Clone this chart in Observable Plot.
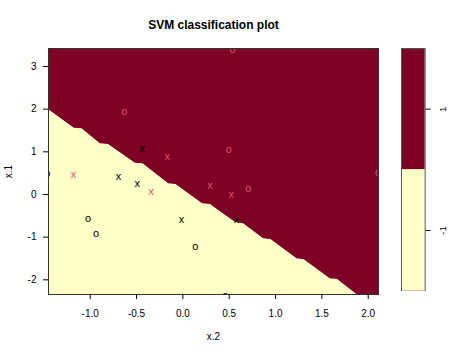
<!DOCTYPE html>
<html><head><meta charset="utf-8">
<script src="https://cdn.jsdelivr.net/npm/d3@7"></script>
<script src="https://cdn.jsdelivr.net/npm/@observablehq/plot@0.6"></script>
<style>
html,body{margin:0;padding:0;background:#fff;}
#chart{position:relative;width:474px;height:355px;font-family:"Liberation Sans",Arial,sans-serif;}
#legend{position:absolute;left:401px;top:48px;}
</style></head><body><div id="chart"><div id="main"></div><div id="legend"></div></div>
<script>
const title = "SVM classification plot";
const xLabel = "x.2";
const yLabel = "x.1";
const xDomain = [-1.450, 2.111];
const yDomain = [-2.344, 3.422];
const xTicks = [-1, -0.5, 0, 0.5, 1, 1.5, 2];
const xTickLabels = ["-1.0", "-0.5", "0.0", "0.5", "1.0", "1.5", "2.0"];
const yTicks = [-2, -1, 0, 1, 2, 3];
const yTickLabels = ["-2", "-1", "0", "1", "2", "3"];
const classes = ["-1", "1"];
const legendOrder = ["1", "-1"];
const regionColors = ["#FFFFC8", "#7D0025"];
const pointColors = ["#000000", "#DF536B"];

// decision boundary (x.2, x.1)
const boundaryX2 = [-1.450, -1.172, -1.088, -0.891, -0.802, -0.513, -0.430, -0.154, -0.074, 0.213, 0.296, 0.569, 0.655, 0.871, 0.950, 1.231, 1.310, 1.590, 1.669, 1.878, 2.111];
const boundaryX1 = [1.992, 1.554, 1.540, 1.188, 1.172, 0.734, 0.719, 0.251, 0.234, -0.218, -0.234, -0.656, -0.687, -1.038, -1.055, -1.507, -1.530, -1.976, -1.992, -2.344, -2.344];

// observations
const pointX2 = [-1.463, -0.694, -0.492, -0.441, -1.024, -0.937, -0.014, 0.134, 0.579, 0.457,
                 -0.632, -1.179, -0.168, -0.341, 0.536, 0.497, 0.292, 0.522, 0.705, 2.105];
const pointX1 = [0.492, 0.422, 0.265, 1.085, -0.555, -0.907, -0.586, -1.226, -0.586, -2.355,
                 1.952, 0.476, 0.884, 0.077, 3.398, 1.055, 0.211, -0.007, 0.148, 0.509];
const pointSymbol = ["o", "x", "x", "x", "o", "o", "x", "o", "x", "o",
                     "o", "x", "x", "x", "o", "o", "x", "x", "o", "o"];
const pointClass = ["-1", "-1", "-1", "-1", "-1", "-1", "-1", "-1", "-1", "-1",
                    "1", "1", "1", "1", "1", "1", "1", "1", "1", "1"];

const boundary = boundaryX2.map((x, i) => ({x, y: boundaryX1[i]}));
const points = pointX2.map((x, i) => ({x, y: pointX1[i], s: pointSymbol[i], c: pointClass[i]}));
const font = '"Liberation Sans", Arial, sans-serif';

const main = Plot.plot({
  width: 474, height: 355,
  marginLeft: 48, marginRight: 96, marginTop: 48, marginBottom: 61,
  style: {fontFamily: font, fontSize: "10px", background: "white", color: "black"},
  x: {domain: xDomain},
  y: {domain: yDomain},
  color: {domain: classes, range: pointColors},
  marks: [
    Plot.areaY(boundary, {x: "x", y1: () => yDomain[0], y2: "y", fill: regionColors[0], curve: "linear"}),
    Plot.areaY(boundary, {x: "x", y1: "y", y2: () => yDomain[1], fill: regionColors[1], curve: "linear"}),
    Plot.text(points, {x: "x", y: "y", text: "s", fill: "c", fontSize: 11, clip: "frame"}),
    Plot.frame({stroke: "#333"}),
    Plot.axisX(xTicks, {tickSize: 5, tickPadding: 10, tickFormat: d => xTickLabels[xTicks.indexOf(d)], label: null, fontSize: 10}),
    Plot.axisY(yTicks, {tickSize: 5, tickPadding: 7, tickFormat: d => yTickLabels[yTicks.indexOf(d)], label: null, fontSize: 10}),
    Plot.text([title], {frameAnchor: "top", dy: -23, lineAnchor: "middle", fontWeight: "bold", fontSize: 12}),
    Plot.text([xLabel], {frameAnchor: "bottom", dy: 42, lineAnchor: "middle", fontSize: 10}),
    Plot.text([yLabel], {frameAnchor: "left", dx: -39.5, rotate: -90, textAnchor: "middle", lineAnchor: "middle", fontSize: 10})
  ]
});
document.getElementById("main").appendChild(main);

const legend = Plot.plot({
  width: 74, height: 246,
  marginLeft: 0, marginRight: 50, marginTop: 0, marginBottom: 0,
  style: {fontFamily: font, fontSize: "10px", background: "transparent", color: "black"},
  y: {domain: legendOrder, type: "band", padding: 0},
  color: {domain: classes, range: regionColors},
  marks: [
    Plot.cell(legendOrder, {y: d => d, fill: d => d}),
    Plot.frame({stroke: "#555"}),
    Plot.axisY({anchor: "right", tickSize: 5, tickFormat: () => "", label: null}),
    Plot.text(legendOrder, {y: d => d, text: d => d, frameAnchor: "right", dx: 18, rotate: -90, textAnchor: "middle", lineAnchor: "middle", fontSize: 10})
  ]
});
document.getElementById("legend").appendChild(legend);
</script></body></html>
